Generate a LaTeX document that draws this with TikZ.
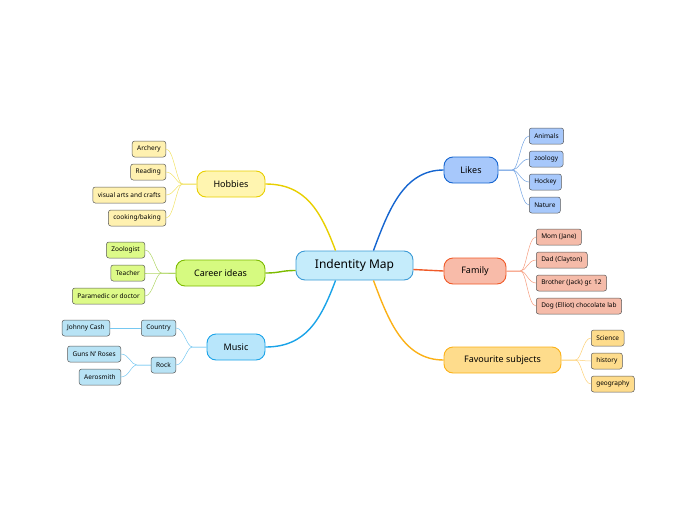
\documentclass[tikz,border=0pt]{standalone}
\usepackage{fontspec}
\setmainfont{Noto Sans}
\begin{document}
\begin{tikzpicture}[x=1pt,y=-1pt,
 main/.style={draw=#1,line width=0.9pt,rounded corners=9pt,minimum height=26pt,inner xsep=10pt,font=\fontsize{9}{10}\selectfont\bfseries},
 leaf/.style={draw=black!65,line width=0.5pt,rounded corners=2.5pt,minimum height=16pt,inner xsep=5pt,inner ysep=0pt,font=\fontsize{6.5}{7}\selectfont},
 br/.style={line width=1.4pt,draw=#1},
 lf/.style={line width=0.5pt,draw=#1}]
\useasboundingbox (0,0) rectangle (697,520);
\definecolor{cB}{HTML}{3C9BD6}\definecolor{cF}{HTML}{C5ECFB}
\definecolor{hB}{HTML}{E8CF00}\definecolor{hF}{HTML}{FFF5B0}\definecolor{hL}{HTML}{FFF1B0}
\definecolor{kB}{HTML}{7CBB00}\definecolor{kF}{HTML}{D6FA80}\definecolor{kL}{HTML}{DDFA88}
\definecolor{mB}{HTML}{1AA3E8}\definecolor{mF}{HTML}{B8E6FB}\definecolor{mL}{HTML}{B8E3F5}
\definecolor{lB}{HTML}{1565D0}\definecolor{lF}{HTML}{A7C8FB}\definecolor{lL}{HTML}{A7C8FB}
\definecolor{fB}{HTML}{F05A28}\definecolor{fF}{HTML}{F8BBA9}\definecolor{fL}{HTML}{F5BBA9}
\definecolor{sB}{HTML}{FBB117}\definecolor{sF}{HTML}{FEDC8C}\definecolor{sL}{HTML}{FEDC8C}

\node[main=cB,fill=cF,minimum width=117pt,minimum height=29pt,font=\fontsize{12}{13}\selectfont\bfseries] (c) at (354.5,265.5) {Indentity Map};
\node[main=hB,fill=hF,minimum width=68pt] (hob) at (231,184) {Hobbies};
\node[main=kB,fill=kF,minimum width=89pt] (car) at (220.5,273) {Career ideas};
\node[main=mB,fill=mF,minimum width=58pt] (mus) at (236,347) {Music};
\node[main=lB,fill=lF,minimum width=54pt] (lik) at (471,170) {Likes};
\node[main=fB,fill=fF,minimum width=62pt] (fam) at (475,271) {Family};
\node[main=sB,fill=sF,minimum width=117pt] (fav) at (502.5,360) {Favourite subjects};

\draw[br=hB] (c.north west)++(40,0) .. controls +(-15,-40) and +(40,0) .. (hob.east);
\draw[br=kB] (c.west)++(0,5) .. controls +(-15,0) and +(15,0) .. (car.east);
\draw[br=mB] (c.south west)++(40,0) .. controls +(-15,40) and +(40,0) .. (mus.east);
\draw[br=lB] (c.north east)++(-40,0) .. controls +(15,-40) and +(-40,0) .. (lik.west);
\draw[br=fB] (c.east)++(0,4) .. controls +(15,0) and +(-15,0) .. (fam.west);
\draw[br=sB] (c.south east)++(-40,0) .. controls +(15,40) and +(-40,0) .. (fav.west);

% hobbies leaves
\foreach \n/\t/\y in {h1/Archery/149,h2/Reading/172,h3/visual arts and crafts/195,h4/cooking\slash baking/218}{
 \node[leaf,fill=hL,anchor=east] (\n) at (166,\y) {\t};
 \draw[lf=hB!60] (hob.west) -- ++(-14,0) .. controls +(-6,0) and +(8,0) .. (\n.east);}
\foreach \n/\t/\y in {k1/Zoologist/250,k2/Teacher/273,k3/Paramedic or doctor/296}{
 \node[leaf,fill=kL,anchor=east] (\n) at (145,\y) {\t};
 \draw[lf=kB!60] (car.west) -- ++(-14,0) .. controls +(-6,0) and +(8,0) .. (\n.east);}
\node[leaf,fill=mL,anchor=east] (m1) at (176,328) {Country};
\node[leaf,fill=mL,anchor=east] (m2) at (176,365) {Rock};
\node[leaf,fill=mL,anchor=east] (m3) at (110,328) {Johnny Cash};
\node[leaf,fill=mL,anchor=east] (m4) at (121,354) {Guns N' Roses};
\node[leaf,fill=mL,anchor=east] (m5) at (121,377) {Aerosmith};
\foreach \n in {m1,m2}{\draw[lf=mB!60] (mus.west) -- ++(-14,0) .. controls +(-6,0) and +(8,0) .. (\n.east);}
\draw[lf=mB!60] (m1.west) -- (m3.east);
\foreach \n in {m4,m5}{\draw[lf=mB!60] (m2.west) -- ++(-14,0) .. controls +(-6,0) and +(8,0) .. (\n.east);}

\foreach \n/\t/\y in {l1/Animals/136,l2/zoology/159,l3/Hockey/182,l4/Nature/205}{
 \node[leaf,fill=lL,anchor=west] (\n) at (529,\y) {\t};
 \draw[lf=lB!60] (lik.east) -- ++(14,0) .. controls +(6,0) and +(-8,0) .. (\n.west);}
\foreach \n/\t/\y in {f1/Mom (Jane)/237,f2/Dad (Clayton)/260,f3/Brother (Jack) gr. 12/283,f4/Dog (Elliot) chocolate lab/306}{
 \node[leaf,fill=fL,anchor=west] (\n) at (536,\y) {\t};
 \draw[lf=fB!60] (fam.east) -- ++(14,0) .. controls +(6,0) and +(-8,0) .. (\n.west);}
\foreach \n/\t/\y in {s1/Science/338,s2/history/361,s3/geography/384}{
 \node[leaf,fill=sL,anchor=west] (\n) at (591,\y) {\t};
 \draw[lf=sB!60] (fav.east) -- ++(14,0) .. controls +(6,0) and +(-8,0) .. (\n.west);}
\end{tikzpicture}
\end{document}
